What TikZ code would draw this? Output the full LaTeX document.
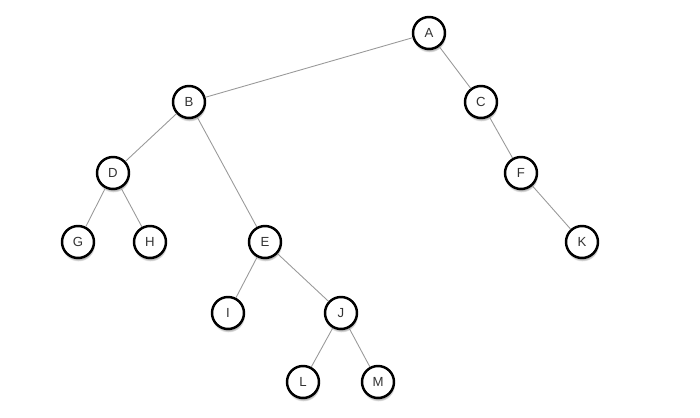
\documentclass[tikz,border=0pt]{standalone}
\usepackage{fontspec}
\setsansfont{Liberation Sans}
\usepackage{tikz}
\usetikzlibrary{shadows}

\tikzset{
    treenode/.style={circle, draw=black, line width=1.4pt, fill=white, minimum size=0.64cm, inner sep=0pt,
        text=black!80, font=\sffamily\fontsize{7.5}{8}\selectfont,
        circular drop shadow={shadow xshift=0.2pt, shadow yshift=-1.5pt, shadow scale=1.05, opacity=0.6}},
    treeedge/.style={draw=black!40, line width=0.5pt}
}

\begin{document}
\begin{tikzpicture}[x=0.02cm, y=-0.02cm]
    \useasboundingbox (0,0) rectangle (700,418);

    % Nodes
    \node[treenode] (A) at (429,33) {A};
    \node[treenode] (B) at (189,102) {B};
    \node[treenode] (C) at (481,102) {C};
    \node[treenode] (D) at (113,173) {D};
    \node[treenode] (F) at (521,173) {F};
    \node[treenode] (G) at (78,242) {G};
    \node[treenode] (H) at (150,242) {H};
    \node[treenode] (E) at (265,242) {E};
    \node[treenode] (K) at (582,242) {K};
    \node[treenode] (I) at (228,313) {I};
    \node[treenode] (J) at (341,313) {J};
    \node[treenode] (L) at (303,382) {L};
    \node[treenode] (M) at (378,382) {M};

    % Edges
    \draw[treeedge] (A) -- (B);
    \draw[treeedge] (A) -- (C);
    \draw[treeedge] (B) -- (D);
    \draw[treeedge] (B) -- (E);
    \draw[treeedge] (C) -- (F);
    \draw[treeedge] (F) -- (K);
    \draw[treeedge] (D) -- (G);
    \draw[treeedge] (D) -- (H);
    \draw[treeedge] (E) -- (I);
    \draw[treeedge] (E) -- (J);
    \draw[treeedge] (J) -- (L);
    \draw[treeedge] (J) -- (M);

\end{tikzpicture}
\end{document}
